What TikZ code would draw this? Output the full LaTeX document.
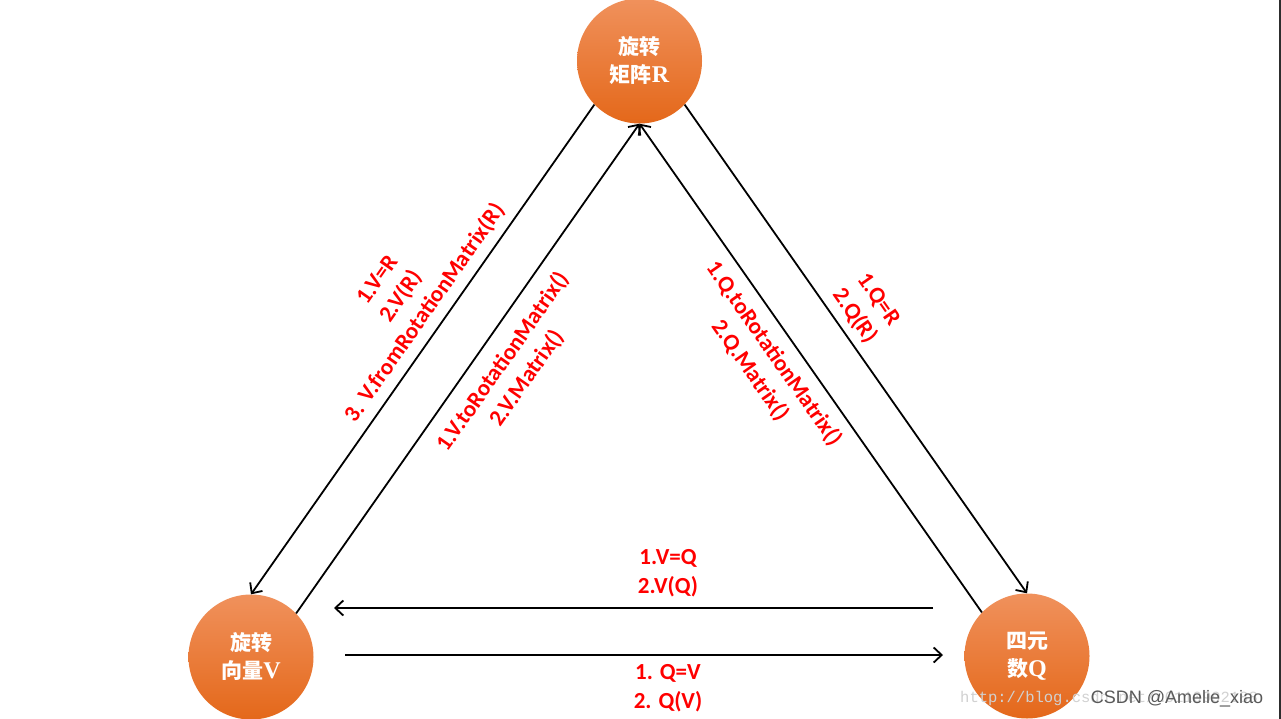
\documentclass[tikz,border=0pt]{standalone}
\usepackage{fontspec}
\setmainfont{Carlito}
\newfontfamily\cjk{Noto Sans CJK SC}
\newfontfamily\serifb{Liberation Serif}
\newfontfamily\lab{Carlito}
\newfontfamily\wmsans{Liberation Sans}
\newfontfamily\wmmono{Liberation Mono}
\usetikzlibrary{arrows.meta,calc}
\definecolor{cTop}{RGB}{240,145,92}
\definecolor{cMid}{RGB}{241,122,42}
\definecolor{cBot}{RGB}{228,104,26}
\definecolor{labred}{RGB}{255,0,0}
\definecolor{darkbar}{RGB}{45,45,45}
\newcommand{\lat}[1]{{\serifb\bfseries\fontsize{24}{28}\selectfont #1}}
\tikzset{
  ball/.style={circle, minimum size=125pt, inner sep=0pt, top color=cTop, middle color=cMid, bottom color=cBot, text=white, align=center, font=\fontsize{21}{28}\selectfont\bfseries},
  arr/.style={line width=1.8pt, -{Straight Barb[length=8pt,width=15pt]}},
  lbl/.style={text=labred, align=center, inner sep=0pt, font=\lab\bfseries\fontsize{23}{29}\selectfont}
}
\begin{document}
\begin{tikzpicture}[x=1pt,y=-1pt]
\useasboundingbox (0,0) rectangle (1281,719);
\fill[white] (0,0) rectangle (1281,719);
\fill[darkbar] (1279,0) rectangle (1281,719);

\node[ball] (R) at (639.5,61) {{\cjk\bfseries 旋转}\\{\cjk\bfseries 矩阵}\lat{R}};
\node[ball] (V) at (251,657) {{\cjk\bfseries 旋转}\\{\cjk\bfseries 向量}\lat{V}};
\node[ball] (Q) at (1027,656) {{\cjk\bfseries 四元}\\{\cjk\bfseries 数}\lat{Q}};

\coordinate (vqa) at (933,608);
\coordinate (vqb) at (334,608);
\coordinate (qva) at (345,655);
\coordinate (qvb) at (943,655);

\draw[arr] (R.224) -- (V.north);
\draw[arr] (V.44) -- (R.south);
\draw[arr] (Q.136) -- (R.south);
\draw[arr] (R.316) -- (Q.north);
\draw[arr] (vqa) -- (vqb);
\draw[arr] (qva) -- (qvb);

\node[lbl, rotate=55] (l1) at (402,297) {1.V=R\\2.V(R)\\3. V.fromRotationMatrix(R)};
\node[lbl, rotate=55] (l2) at (515,370) {1.V.toRotationMatrix()\\2.V.Matrix()};
\node[lbl, rotate=-55] (l3) at (762,362) {1.Q.toRotationMatrix()\\2.Q.Matrix()};
\node[lbl, rotate=-55] (l4) at (866,308) {1.Q=R\\2.Q(R)};
\node[lbl] (l5) at (668,573) {1.V=Q\\2.V(Q)};
\node[lbl] (l6) at (668,688) {1. Q=V\\2. Q(V)};

\node[anchor=west, inner sep=0pt, text=black!18, font=\wmmono\fontsize{15.5}{16}\selectfont] (wm1) at (960,698) {http://blog.csdn.net/u0110992188};
\node[inner sep=0pt, text=black!65, font=\wmsans\fontsize{18}{20}\selectfont] (wm2) at (1177,699) {CSDN @Amelie\_xiao};
\end{tikzpicture}
\end{document}
